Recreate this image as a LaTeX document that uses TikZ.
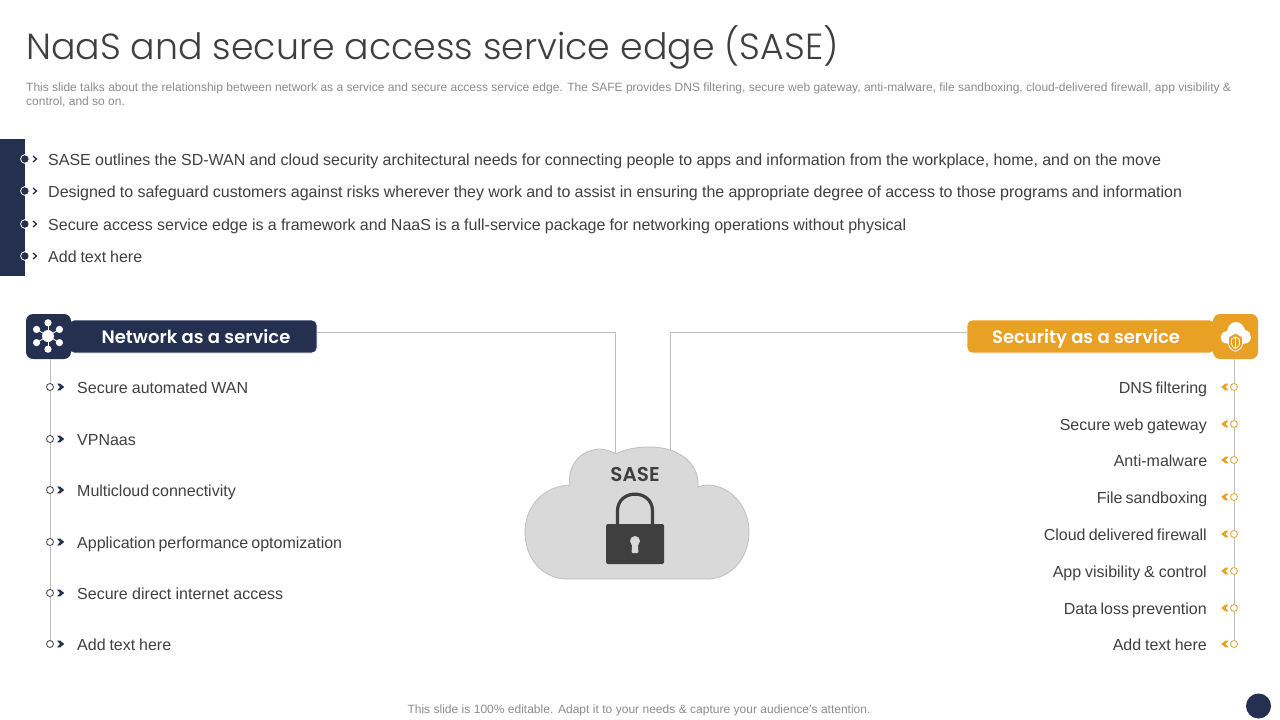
\documentclass[tikz,border=0pt]{standalone}
\usepackage{fontspec}
\setmainfont{Liberation Sans}
\newfontfamily\titlefont{Poppins Light}
\newfontfamily\headfont{Poppins SemiBold}
\definecolor{navy}{HTML}{252F50}
\definecolor{amber}{HTML}{E8A025}
\definecolor{bodytext}{HTML}{404040}
\definecolor{subgray}{HTML}{8C8C8C}
\definecolor{linegray}{HTML}{BFBFBF}
\definecolor{cloudfill}{HTML}{D9D9D9}
\definecolor{dark}{HTML}{3F3F3F}
\tikzset{
  x=1pt,y=-1pt,
  txt/.style={inner sep=0pt,text=bodytext,text height=12pt,text depth=0pt,font=\fontsize{16}{19}\selectfont},
  ltxt/.style={txt,anchor=west},
  rtxt/.style={txt,anchor=east},
  smalltxt/.style={inner sep=0pt,text=subgray,text height=8.6pt,text depth=0.4pt,font=\fontsize{12}{14}\selectfont},
  conn/.style={draw=linegray,line width=0.9pt},
  hdr/.style={rounded corners=5pt,minimum height=33pt,minimum width=248pt,inner sep=0pt,text=white,draw=white,line width=0.8pt,text height=13pt,text depth=0pt,font=\headfont\fontsize{18}{22}\selectfont},
  iconbox/.style={rounded corners=7pt,minimum width=45pt,minimum height=45pt,inner sep=0pt},
  lmark/.style={circle,draw=dark,fill=white,line width=0.8pt,minimum size=7pt,inner sep=0pt},
  rmark/.style={circle,draw=amber,fill=white,line width=0.8pt,minimum size=7pt,inner sep=0pt},
}
\begin{document}
\begin{tikzpicture}
\useasboundingbox (0,0) rectangle (1280,720);
\fill[white] (0,0) rectangle (1280,720);
% title
\node[inner sep=0pt,anchor=west,text=dark,font=\titlefont\fontsize{36.3}{40}\selectfont] (title) at (26,47) {NaaS and secure access service edge (SASE)};
\node[smalltxt,anchor=west] (sub1) at (26,87) {\makebox[1205pt][s]{This slide talks about the relationship between network as a service and secure access service edge. The SAFE provides DNS filtering, secure web gateway, anti-malware, file sandboxing, cloud-delivered firewall, app visibility \&}};
\node[smalltxt,anchor=west] (sub2) at (26,101) {control, and so on.};
% band and bullets
\fill[navy] (0,139) rectangle (25,276);
\foreach \n/\y/\w/\t in {a/159/1113/{SASE outlines the SD-WAN and cloud security architectural needs for connecting people to apps and information from the workplace, home, and on the move},
 b/191/1134/{Designed to safeguard customers against risks wherever they work and to assist in ensuring the appropriate degree of access to those programs and information},
 c/224/858/{Secure access service edge is a framework and NaaS is a full-service package for networking operations without physical},
 d/256/94/{Add text here}}{
  \node[ltxt] (bul\n) at (48,\y) {\makebox[\w pt][s]{\t}};
  \fill[navy] (25,\y) circle (3.6pt);
  \draw[white,line width=0.8pt] (25,\y-4.4) .. controls (22.6,\y-4.4) and (20.6,\y-2.4) .. (20.6,\y) .. controls (20.6,\y+2.4) and (22.6,\y+4.4) .. (25,\y+4.4);
  \draw[navy,line width=1.3pt] (33,\y-3) -- (36.5,\y) -- (33,\y+3);
}
% connectors run behind the cloud
\coordinate (lhook) at (615,458);
\coordinate (rhook) at (670,456);
\node[hdr,fill=navy] (lhead) at (193,336.5) {\hspace*{6pt}Network as a service};
\node[hdr,fill=amber] (rhead) at (1091,336.5) {Security as a service\hspace*{10pt}};
\draw[conn] (lhead.east |- 0,332) -| (lhook);
\draw[conn] (rhead.west |- 0,332) -| (rhook);
\filldraw[draw=linegray,fill=cloudfill,line width=0.8pt]
  (616,454) .. controls (607,449) and (598,448) .. (593,450)
  .. controls (578,453) and (567,468) .. (570,485)
  .. controls (544,486) and (525,506) .. (525,532)
  .. controls (525,560) and (544,579) .. (567,579)
  -- (707,579)
  .. controls (731,579) and (749,558) .. (749,532)
  .. controls (749,506) and (730,485) .. (707,485)
  .. controls (704,485) and (701,486) .. (698,487)
  .. controls (700,462) and (677,447) .. (650,447)
  .. controls (637,447) and (625,449) .. (616,454) -- cycle;
\node[inner sep=0pt,text=dark,font=\headfont\fontsize{20}{22}\selectfont] (sase) at (635,474.5) {SASE};
% lock
\draw[dark,line width=3.2pt] (617.5,526) -- (617.5,511) .. controls (617.5,488.5) and (652.5,488.5) .. (652.5,511) -- (652.5,526);
\fill[dark,rounded corners=1.5pt] (606,524) rectangle (664,564);
\fill[cloudfill] (635,541) circle (5pt);
\fill[cloudfill,rounded corners=1pt] (632.2,542) -- (637.8,542) -- (638.4,553) -- (631.6,553) -- cycle;
% left icon
\node[iconbox,fill=navy] (lbox) at (48.5,336.5) {};
\foreach \a in {30,90,150,210,270,330}{
  \draw[white,line width=0.8pt] (48,336) -- ++(\a:13);
  \fill[white] (48,336) ++(\a:13.2) circle (3.6pt);
}
\fill[white] (48,336) circle (6pt);
% right icon
\node[iconbox,fill=amber] (rbox) at (1235.5,336.5) {};
\fill[white] (1227,343.5) .. controls (1222,343.5) and (1220,339) .. (1221,336)
  .. controls (1222,332) and (1225,331) .. (1227,331)
  .. controls (1228,325) and (1232,322) .. (1236,322)
  .. controls (1241,322) and (1244,326) .. (1245,330)
  .. controls (1249,331) and (1251,334) .. (1251,337)
  .. controls (1251,341) and (1248,343.5) .. (1245,343.5) -- cycle;
\filldraw[fill=amber,draw=white,line width=0.8pt] (1235.5,333) -- (1242.5,337) -- (1242.5,344) .. controls (1242.5,348) and (1238,350.5) .. (1235.5,351.5) .. controls (1233,350.5) and (1228.5,348) .. (1228.5,344) -- (1228.5,337) -- cycle;
\filldraw[fill=amber,draw=white,line width=0.7pt] (1235.5,337) -- (1239.5,339.2) -- (1239.5,344) .. controls (1239.5,346) and (1237,348) .. (1235.5,348.5) .. controls (1234,348) and (1231.5,346) .. (1231.5,344) -- (1231.5,339.2) -- cycle;
\draw[white,line width=0.8pt] (1235.5,337) -- (1235.5,348.5);
% left list
\coordinate (lend) at (50,644);
\draw[conn] (lbox.south -| 50,0) -- (lend);
\foreach \n/\y/\w/\t in {1/387/171/{Secure automated WAN},2/439/59/{VPNaas},3/490/156/{Multicloud connectivity},4/542/265/{Application performance optomization},5/593/206/{Secure direct internet access},6/644/94/{Add text here}}{
  \node[lmark] (lm\n) at (50,\y) {};
  \fill[navy] (57,\y-3.3) -- (60.2,\y-3.3) -- (64.2,\y) -- (60.2,\y+3.3) -- (57,\y+3.3) -- (60.2,\y) -- cycle;
  \node[ltxt] (lt\n) at (77,\y) {\makebox[\w pt][s]{\t}};
}
% right list
\coordinate (rend) at (1234,644);
\draw[conn] (rbox.south -| 1234,0) -- (rend);
\foreach \n/\y/\w/\t in {1/387/88/{DNS filtering},2/424/147/{Secure web gateway},3/460/93/{Anti-malware},4/497/110/{File sandboxing},5/534/163/{Cloud delivered firewall},6/571/154/{App visibility \& control},7/608/143/{Data loss prevention},8/644/94/{Add text here}}{
  \node[rmark] (rm\n) at (1234,\y) {};
  \fill[amber] (1228.5,\y-3.3) -- (1225.3,\y-3.3) -- (1221.3,\y) -- (1225.3,\y+3.3) -- (1228.5,\y+3.3) -- (1225.3,\y) -- cycle;
  \node[rtxt] (rt\n) at (1207,\y) {\makebox[\w pt][s]{\t}};
}
% footer
\node[smalltxt] (foot) at (639,709) {\makebox[463pt][s]{This slide is 100\% editable. Adapt it to your needs \& capture your audience’s attention.}};
\node[circle,fill=navy,minimum size=25pt,inner sep=0pt] (pg) at (1258.5,706) {};
\end{tikzpicture}
\end{document}
